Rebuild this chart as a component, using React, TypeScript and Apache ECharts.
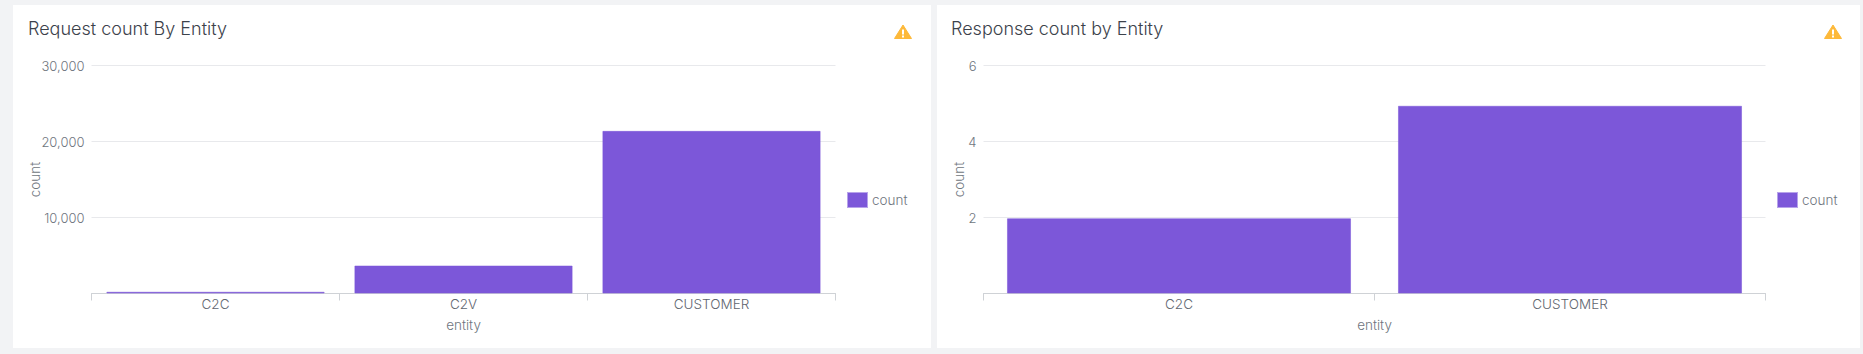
import React, { useEffect, useRef } from "react";
import * as echarts from "echarts";

const FONT = "Inter";
const leftCategories = ["C2C", "C2V", "CUSTOMER"];
const leftValues = [230, 3680, 21400];
const rightCategories = ["C2C", "CUSTOMER"];
const rightValues = [1.98, 4.94];
const leftTitle = "Request count By Entity";
const rightTitle = "Response count by Entity";
const seriesName = "count";
const xName = "entity";
const yName = "count";
const PURPLE = "#7c57d9";

const warning = (x: number) => ({
  type: "group",
  x,
  y: 24,
  children: [
    { type: "polygon", shape: { points: [[9, 1], [17.5, 14.5], [0.5, 14.5]] }, style: { fill: "#fdb93a", stroke: "#fdb93a", lineWidth: 1, lineJoin: "round" } },
    { type: "rect", shape: { x: 8, y: 5.5, width: 2, height: 5 }, style: { fill: "#fff" } },
    { type: "rect", shape: { x: 8, y: 11.5, width: 2, height: 2 }, style: { fill: "#fff" } },
  ],
});

const xAxis = (gridIndex: number, data: string[]) => ({
  type: "category",
  gridIndex,
  data,
  name: xName,
  nameLocation: "middle",
  nameGap: 24,
  nameMoveOverlap: false,
  nameTextStyle: { color: "#6f7680", fontSize: 13.5, fontWeight: 300, fontFamily: FONT },
  axisLine: { lineStyle: { color: "#cfd2d6" } },
  axisTick: { show: true, length: 7, lineStyle: { color: "#cfd2d6" } },
  axisLabel: { color: "#5f6670", fontSize: 13.5, fontWeight: 300, fontFamily: FONT, margin: 3 },
});

const yAxis = (gridIndex: number, max: number, interval: number, nameGap: number) => ({
  type: "value",
  gridIndex,
  min: 0,
  max,
  interval,
  name: yName,
  nameLocation: "middle",
  nameGap,
  nameMoveOverlap: false,
  nameTextStyle: { color: "#6f7680", fontSize: 13.5, fontWeight: 300, fontFamily: FONT },
  axisLine: { show: false },
  axisTick: { show: false },
  splitLine: { lineStyle: { color: "#e8e9ec", width: 1 } },
  axisLabel: {
    color: "#6f7680",
    fontSize: 13,
    fontWeight: 300,
    fontFamily: FONT,
    margin: 7,
    padding: [2, 0, 0, 0],
    formatter: (v: number) => (v === 0 ? "" : v.toLocaleString("en-US")),
  },
});

const bar = (i: number, data: number[], name: string) => ({
  type: "bar",
  name,
  xAxisIndex: i,
  yAxisIndex: i,
  data,
  barCategoryGap: "12%",
  itemStyle: { color: PURPLE, borderColor: "rgba(124,87,217,0.55)", borderWidth: 1 },
});

const legend = (left: number, name: string) => ({
  orient: "vertical",
  left,
  top: 192,
  icon: "rect",
  itemWidth: 19,
  itemHeight: 14,
  itemGap: 0,
  data: [{ name }],
  formatter: () => seriesName,
  textStyle: { color: "#6f7680", fontSize: 13.5, fontWeight: 300, fontFamily: FONT, padding: [0, 0, 0, 0] },
  selectedMode: false,
  padding: 0,
});

export default function App() {
  const ref = useRef<HTMLDivElement>(null);
  useEffect(() => {
    document.body.style.margin = "0";
    const chart = echarts.init(ref.current!, undefined, { renderer: "svg" });
    chart.setOption({
      animation: false,
      backgroundColor: "#f2f3f5",
      title: [
        { text: leftTitle, left: 23, top: 14, textStyle: { color: "#3c424b", fontSize: 18, fontWeight: 300, fontFamily: FONT } },
        { text: rightTitle, left: 946, top: 14, textStyle: { color: "#3c424b", fontSize: 18, fontWeight: 300, fontFamily: FONT } },
      ],
      grid: [
        { left: 91.5, width: 744, top: 65.5, height: 228 },
        { left: 983.5, width: 782, top: 65.5, height: 228 },
      ],
      xAxis: [xAxis(0, leftCategories), xAxis(1, rightCategories)],
      yAxis: [yAxis(0, 30000, 10000, 49.5), yAxis(1, 6, 2, 18)],
      legend: [legend(847, seriesName), legend(1777, seriesName + " ")],
      series: [bar(0, leftValues, seriesName), bar(1, rightValues, seriesName + " ")],
      graphic: [
        { type: "rect", z: -1, silent: true, shape: { x: 13, y: 5, width: 918, height: 343 }, style: { fill: "#fff" } },
        { type: "rect", z: -1, silent: true, shape: { x: 937, y: 5, width: 923, height: 343 }, style: { fill: "#fff" } },
        warning(894),
        warning(1824),
      ],
    });
    return () => chart.dispose();
  }, []);
  return <div ref={ref} style={{ width: 1863, height: 354 }} />;
}
